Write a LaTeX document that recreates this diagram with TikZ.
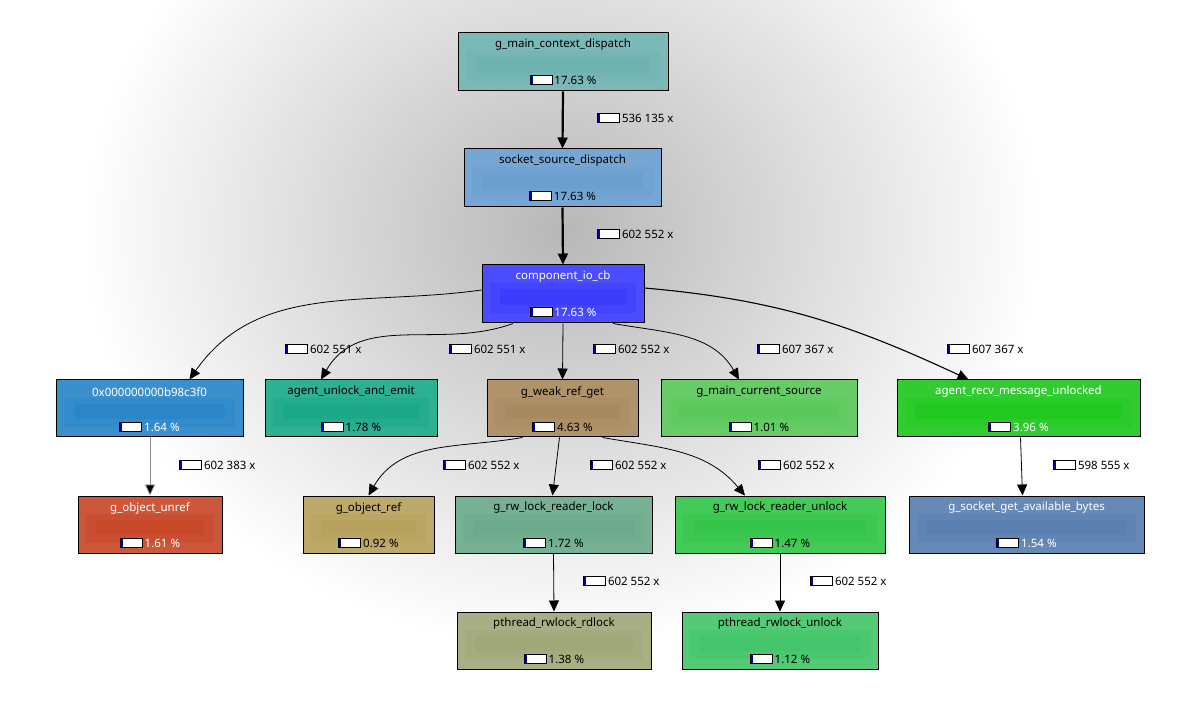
\documentclass[tikz,border=0pt]{standalone}
\usepackage{fontspec}
\setmainfont{Noto Sans}
\usetikzlibrary{arrows.meta}
\newcommand{\pbar}{\tikz[baseline=-0.5pt]{\draw[black,fill=white,line width=0.9pt] (0,-0.3pt) rectangle (22pt,8.5pt);\fill[blue!70!black] (0.6pt,0.3pt) rectangle (2.6pt,7.9pt);}}
\tikzset{
  cg/.style={draw=black,line width=1pt,inner sep=0pt},
  nm/.style={font=\fontsize{11.5}{13}\selectfont},
  el/.style={anchor=west,inner sep=0pt,font=\fontsize{11.5}{13}\selectfont},
  ed/.style={line width=0.8pt,-{Triangle[length=11pt,width=10pt]}},
  edt/.style={line width=2.2pt,-{Triangle[length=11pt,width=10pt]}}
}
% name, x1,y1,x2,y2, fill, textcolor, label, pct
\newcommand{\cgn}[9]{%
  \node[cg,fill=#6!92!white,minimum width={#4-#2},minimum height={#5-#3}] (#1) at ({(#2+#4)/2},{(#3+#5)/2}) {};
  \fill[#6!96!white] ({#2+8},{#3+18}) rectangle ({#4-8},{#5-10});
  \fill[#6] ({#2+18},{#3+24}) rectangle ({#4-18},{#5-18});
  \node[nm,text=#7] at ({(#2+#4)/2},{#3+12}) {#8};
  \node[nm,text=#7] at ({(#2+#4)/2},{#3+47}) {\pbar\,#9};
}
\definecolor{cA}{HTML}{6FB3B1}
\definecolor{cB}{HTML}{6A9FD0}
\definecolor{cC}{HTML}{3C3CFF}
\definecolor{cD}{HTML}{2A86C8}
\definecolor{cE}{HTML}{1CA98A}
\definecolor{cF}{HTML}{A98A5E}
\definecolor{cG}{HTML}{5AC85A}
\definecolor{cH}{HTML}{20C820}
\definecolor{cI}{HTML}{C8482A}
\definecolor{cJ}{HTML}{B7A15D}
\definecolor{cK}{HTML}{6BAA8B}
\definecolor{cL}{HTML}{34C54A}
\definecolor{cM}{HTML}{5A7FB1}
\definecolor{cN}{HTML}{A0A87A}
\definecolor{cO}{HTML}{45C56B}
\begin{document}
\begin{tikzpicture}[x=1pt,y=-1pt]
\useasboundingbox (0,0) rectangle (1195,711);
\fill[white] (0,0) rectangle (1195,711);
\shade[inner color=black!28,outer color=white] (562,230) ellipse (480 and 420);
\cgn{a}{458}{33}{668}{91}{cA}{black}{g\_main\_context\_dispatch}{17.63 \%}
\cgn{b}{464}{149}{661}{207}{cB}{black}{socket\_source\_dispatch}{17.63 \%}
\cgn{c}{482}{265}{644}{323}{cC}{white}{component\_io\_cb}{17.63 \%}
\cgn{d}{56}{380}{243}{437}{cD}{white}{0x000000000b98c3f0}{1.64 \%}
\cgn{e}{265}{380}{437}{437}{cE}{black}{agent\_unlock\_and\_emit}{1.78 \%}
\cgn{f}{487}{380}{638}{437}{cF}{black}{g\_weak\_ref\_get}{4.63 \%}
\cgn{g}{661}{380}{857}{437}{cG}{black}{g\_main\_current\_source}{1.01 \%}
\cgn{h}{897}{380}{1140}{437}{cH}{white}{agent\_recv\_message\_unlocked}{3.96 \%}
\cgn{i}{78}{496}{222}{553}{cI}{white}{g\_object\_unref}{1.61 \%}
\cgn{j}{303}{496}{434}{553}{cJ}{black}{g\_object\_ref}{0.92 \%}
\cgn{k}{455}{496}{652}{553}{cK}{black}{g\_rw\_lock\_reader\_lock}{1.72 \%}
\cgn{l}{675}{496}{885}{553}{cL}{black}{g\_rw\_lock\_reader\_unlock}{1.47 \%}
\cgn{m}{909}{496}{1144}{553}{cM}{white}{g\_socket\_get\_available\_bytes}{1.54 \%}
\cgn{n}{457}{612}{651}{669}{cN}{black}{pthread\_rwlock\_rdlock}{1.38 \%}
\cgn{o}{682}{612}{878}{669}{cO}{black}{pthread\_rwlock\_unlock}{1.12 \%}
% edges
\draw[edt] (a.south) -- (b.north);
\draw[edt] (b.south) -- (c.north);
\draw[ed] ([yshift=4pt]c.west) to[out=188,in=55] ([xshift=40pt]d.north);
\draw[ed] ([xshift=-50pt]c.south) to[out=200,in=60] ([xshift=-30pt]e.north);
\draw[ed] (c.south) -- (f.north);
\draw[ed] ([xshift=50pt]c.south) to[out=-10,in=120] ([xshift=-20pt]g.north);
\draw[ed,line width=1.1pt] ([yshift=6pt]c.east) to[out=-5,in=155] ([xshift=-50pt]h.north);
\draw[ed,draw=black!45,-{Triangle[length=11pt,width=10pt,fill=black]}] (d.south -| i.north) -- (i.north);
\draw[ed] ([xshift=-40pt]f.south) to[out=190,in=60] (j.north);
\draw[ed] ([xshift=-3pt]f.south) -- ([xshift=-1pt]k.north);
\draw[ed] ([xshift=40pt]f.south) to[out=-10,in=130] ([xshift=-35pt]l.north);
\draw[ed] ([xshift=2pt]h.south) -- ([xshift=-4pt]m.north);
\draw[ed] (k.south) -- (n.north);
\draw[ed] (l.south) -- (o.north);
% edge labels
\foreach \x/\y/\t in {597/118/536 135 x,597/234/602 552 x,285/349/602 551 x,449/349/602 551 x,593/349/602 552 x,757/349/607 367 x,947/349/607 367 x,179/465/602 383 x,443/465/602 552 x,590/465/602 552 x,758/465/602 552 x,1053/465/598 555 x,583/581/602 552 x,810/581/602 552 x}
  \node[el] at (\x,\y) {\pbar\,\t};
\end{tikzpicture}
\end{document}
